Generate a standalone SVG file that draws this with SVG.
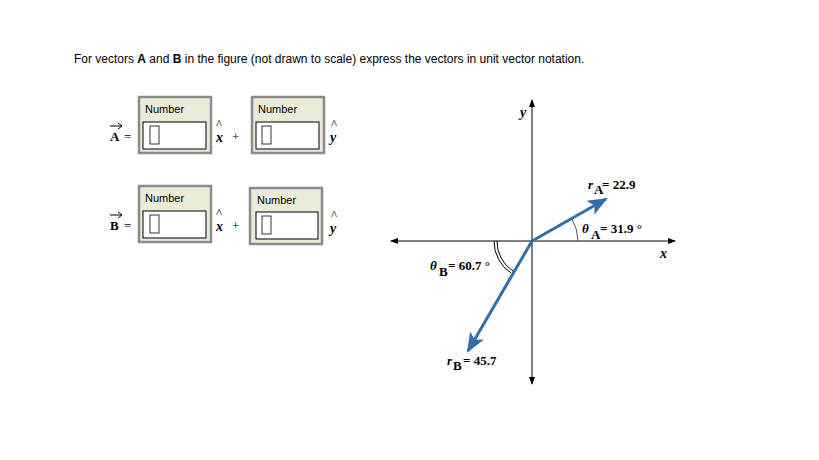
<svg xmlns="http://www.w3.org/2000/svg" width="819" height="460" viewBox="0 0 819 460">
<defs>
<marker id="ax" markerWidth="8" markerHeight="6" refX="7" refY="3" orient="auto" markerUnits="userSpaceOnUse"><path d="M0,0 L8,3 L0,6 Z" fill="#000"/></marker>
<marker id="bl" markerWidth="20" markerHeight="16" refX="18" refY="8" orient="auto" markerUnits="userSpaceOnUse"><path d="M0,0 L20,8 L0,16 L5,8 Z" fill="#336ea6"/></marker>
</defs>
<style>
.s{font-family:"Liberation Sans",Arial,sans-serif;font-size:12px;fill:#000}
.sm{font-family:"Liberation Sans",Arial,sans-serif;font-size:11px;fill:#000}
.t{font-family:"Liberation Serif","Times New Roman",serif;font-size:13px;fill:#000}
.tb{font-family:"Liberation Serif","Times New Roman",serif;font-size:13px;font-weight:bold;fill:#000}
.ti{font-family:"Liberation Serif","Times New Roman",serif;font-size:14px;font-style:italic;font-weight:bold;fill:#000}
.box{fill:#ecead8;stroke:#8c8c8c;stroke-width:2.5}
.in{fill:#fff;stroke:#000;stroke-width:1}
.cur{fill:#fff;stroke:#000;stroke-width:0.8}
.vec{stroke:#336ea6;stroke-width:3;fill:none}
</style>
<rect width="819" height="460" fill="#fff"/>
<text class="s" x="74" y="63">For vectors <tspan font-weight="bold">A</tspan> and <tspan font-weight="bold">B</tspan> in the figure (not drawn to scale) express the vectors in unit vector notation.</text>

<g id="rowA">
<text class="tb" x="110" y="141">A</text><path d="M110,126 H122 M118,123 L122,126 L118,129" stroke="#000" fill="none" stroke-width="1"/>
<text class="t" x="124" y="141">=</text>
<rect class="box" x="139" y="97" width="72" height="56"/><text class="sm" x="145" y="113">Number</text>
<rect class="in" x="143" y="122" width="63" height="27"/><rect class="cur" x="150" y="126" width="9" height="18"/>
<text class="ti" x="216" y="142">x</text><text class="t" x="216" y="128">^</text>
<text class="t" x="232" y="141">+</text>
<rect class="box" x="252" y="97" width="72" height="56"/><text class="sm" x="258" y="113">Number</text>
<rect class="in" x="256" y="122" width="63" height="27"/><rect class="cur" x="262" y="126" width="9" height="18"/>
<text class="ti" x="330" y="142">y</text><text class="t" x="331" y="128">^</text>
</g>

<g id="rowB">
<text class="tb" x="110" y="230">B</text><path d="M110,215 H122 M118,212 L122,215 L118,218" stroke="#000" fill="none" stroke-width="1"/>
<text class="t" x="124" y="230">=</text>
<rect class="box" x="139" y="186" width="72" height="56"/><text class="sm" x="145" y="202">Number</text>
<rect class="in" x="143" y="211" width="63" height="27"/><rect class="cur" x="150" y="215" width="9" height="18"/>
<text class="ti" x="216" y="231">x</text><text class="t" x="216" y="217">^</text>
<text class="t" x="232" y="230">+</text>
<rect class="box" x="250" y="188" width="72" height="56"/><text class="sm" x="257" y="204">Number</text>
<rect class="in" x="256" y="212" width="62" height="27"/><rect class="cur" x="262" y="216" width="9" height="18"/>
<text class="ti" x="330" y="233">y</text><text class="t" x="331" y="219">^</text>
</g>

<g id="axes">
<line x1="532" y1="241" x2="391" y2="241" stroke="#000" marker-end="url(#ax)"/>
<line x1="532" y1="241" x2="675" y2="241" stroke="#000" marker-end="url(#ax)"/>
<line x1="532" y1="241" x2="532" y2="100" stroke="#000" marker-end="url(#ax)"/>
<line x1="532" y1="241" x2="532" y2="384" stroke="#000" marker-end="url(#ax)"/>
<text class="ti" x="520" y="117">y</text>
<text class="ti" x="660" y="258">x</text>
</g>

<g id="connectors">
<line class="vec" x1="532" y1="241" x2="606" y2="199" marker-end="url(#bl)"/>
<line class="vec" x1="532" y1="241" x2="468" y2="351" marker-end="url(#bl)"/>
<path d="M578,241 A46,46 0 0 0 572,219" fill="none" stroke="#555" stroke-width="1"/>
<path d="M497,241 A35,35 0 0 0 513,271" fill="none" stroke="#000" stroke-width="1"/>
<path d="M494,241 A38,38 0 0 0 511,273" fill="none" stroke="#000" stroke-width="1"/>
</g>

<g id="labels">
<text class="tb" x="588" y="189"><tspan font-style="italic">r</tspan></text><text class="tb" x="594" y="194" font-size="8">A</text><text class="tb" x="602" y="189">= 22.9</text>
<text class="tb" x="582" y="233"><tspan font-style="italic">θ</tspan></text><text class="tb" x="591" y="239" font-size="8">A</text><text class="tb" x="600" y="233">= 31.9 °</text>
<text class="tb" x="430" y="270"><tspan font-style="italic">θ</tspan></text><text class="tb" x="439" y="276" font-size="8">B</text><text class="tb" x="448" y="270">= 60.7 °</text>
<text class="tb" x="447" y="365"><tspan font-style="italic">r</tspan></text><text class="tb" x="453" y="370" font-size="8">B</text><text class="tb" x="463" y="365">= 45.7</text>
</g>
</svg>
